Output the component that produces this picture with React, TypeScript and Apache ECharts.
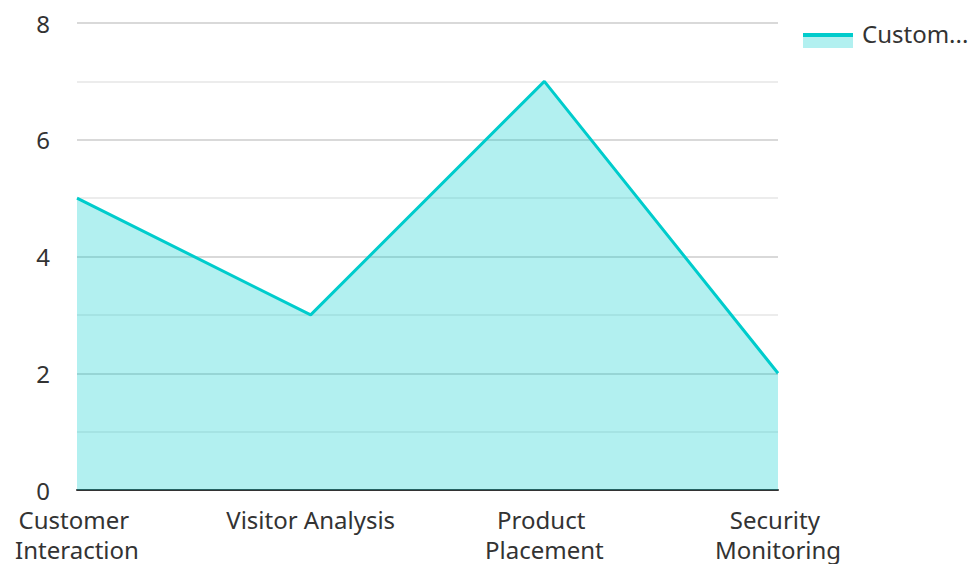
import React, { useEffect, useRef } from "react";
import * as echarts from "echarts";

const categories = ["Customer Interaction", "Visitor Analysis", "Product Placement", "Security Monitoring"];
const values = [5, 3, 7, 2];
const seriesName = "Customer Engagement";

export default function App() {
  const ref = useRef<HTMLDivElement>(null);
  useEffect(() => {
    document.body.style.margin = "0";
    if (!ref.current) return;
    const chart = echarts.init(ref.current, null, { renderer: "svg" });
    const font = "'Noto Sans', 'Open Sans', sans-serif";
    chart.setOption({
      animation: false,
      textStyle: { fontFamily: font },
      grid: { left: 77, right: 197, top: 23, bottom: 74, containLabel: false, outerBoundsMode: "none" },
      legend: {
        show: true,
        left: 803,
        top: 21,
        padding: 0,
        icon: "rect",
        itemWidth: 50,
        itemHeight: 12,
        itemStyle: { color: "rgba(0,0,0,0)", borderWidth: 0 },
        textStyle: { fontSize: 24, color: "#333", width: 112, overflow: "truncate", fontFamily: font, padding: [0, 0, 12, 4] },
        data: [seriesName],
      },
      graphic: [
        {
          type: "rect",
          shape: { x: 803, y: 37, width: 50, height: 11 },
          style: { fill: "rgba(0,204,204,0.3)" },
        },
        {
          type: "line",
          shape: { x1: 803, y1: 35, x2: 853, y2: 35 },
          style: { stroke: "#00cccc", lineWidth: 4 },
        },
      ],
      xAxis: {
        type: "category",
        data: categories,
        boundaryGap: false,
        axisLine: { show: true, lineStyle: { color: "#333", width: 2 } },
        axisTick: { show: false },
        axisLabel: {
          interval: 0,
          fontSize: 24,
          color: "#333",
          margin: 14,
          lineHeight: 30,
          width: 200,
          overflow: "break",
          fontFamily: font,
        },
        splitLine: { show: false },
      },
      yAxis: {
        type: "value",
        min: 0,
        max: 8,
        interval: 2,
        axisLine: { show: false },
        axisTick: { show: false },
        axisLabel: { fontSize: 24, color: "#333", margin: 27, fontFamily: font },
        splitLine: { show: true, lineStyle: { color: "#cccccc", width: 1.5 } },
        minorTick: { show: false, splitNumber: 2 },
        minorSplitLine: { show: true, lineStyle: { color: "#e6e6e6", width: 1.5 } },
      },
      series: [
        {
          name: seriesName,
          type: "line",
          data: values,
          showSymbol: false,
          symbol: "none",
          lineStyle: { color: "#00cccc", width: 3 },
          itemStyle: { color: "#00cccc" },
          areaStyle: { color: "#00cccc", opacity: 0.3 },
        },
      ],
    });
    return () => chart.dispose();
  }, []);
  return <div ref={ref} style={{ width: 975, height: 564 }} />;
}
